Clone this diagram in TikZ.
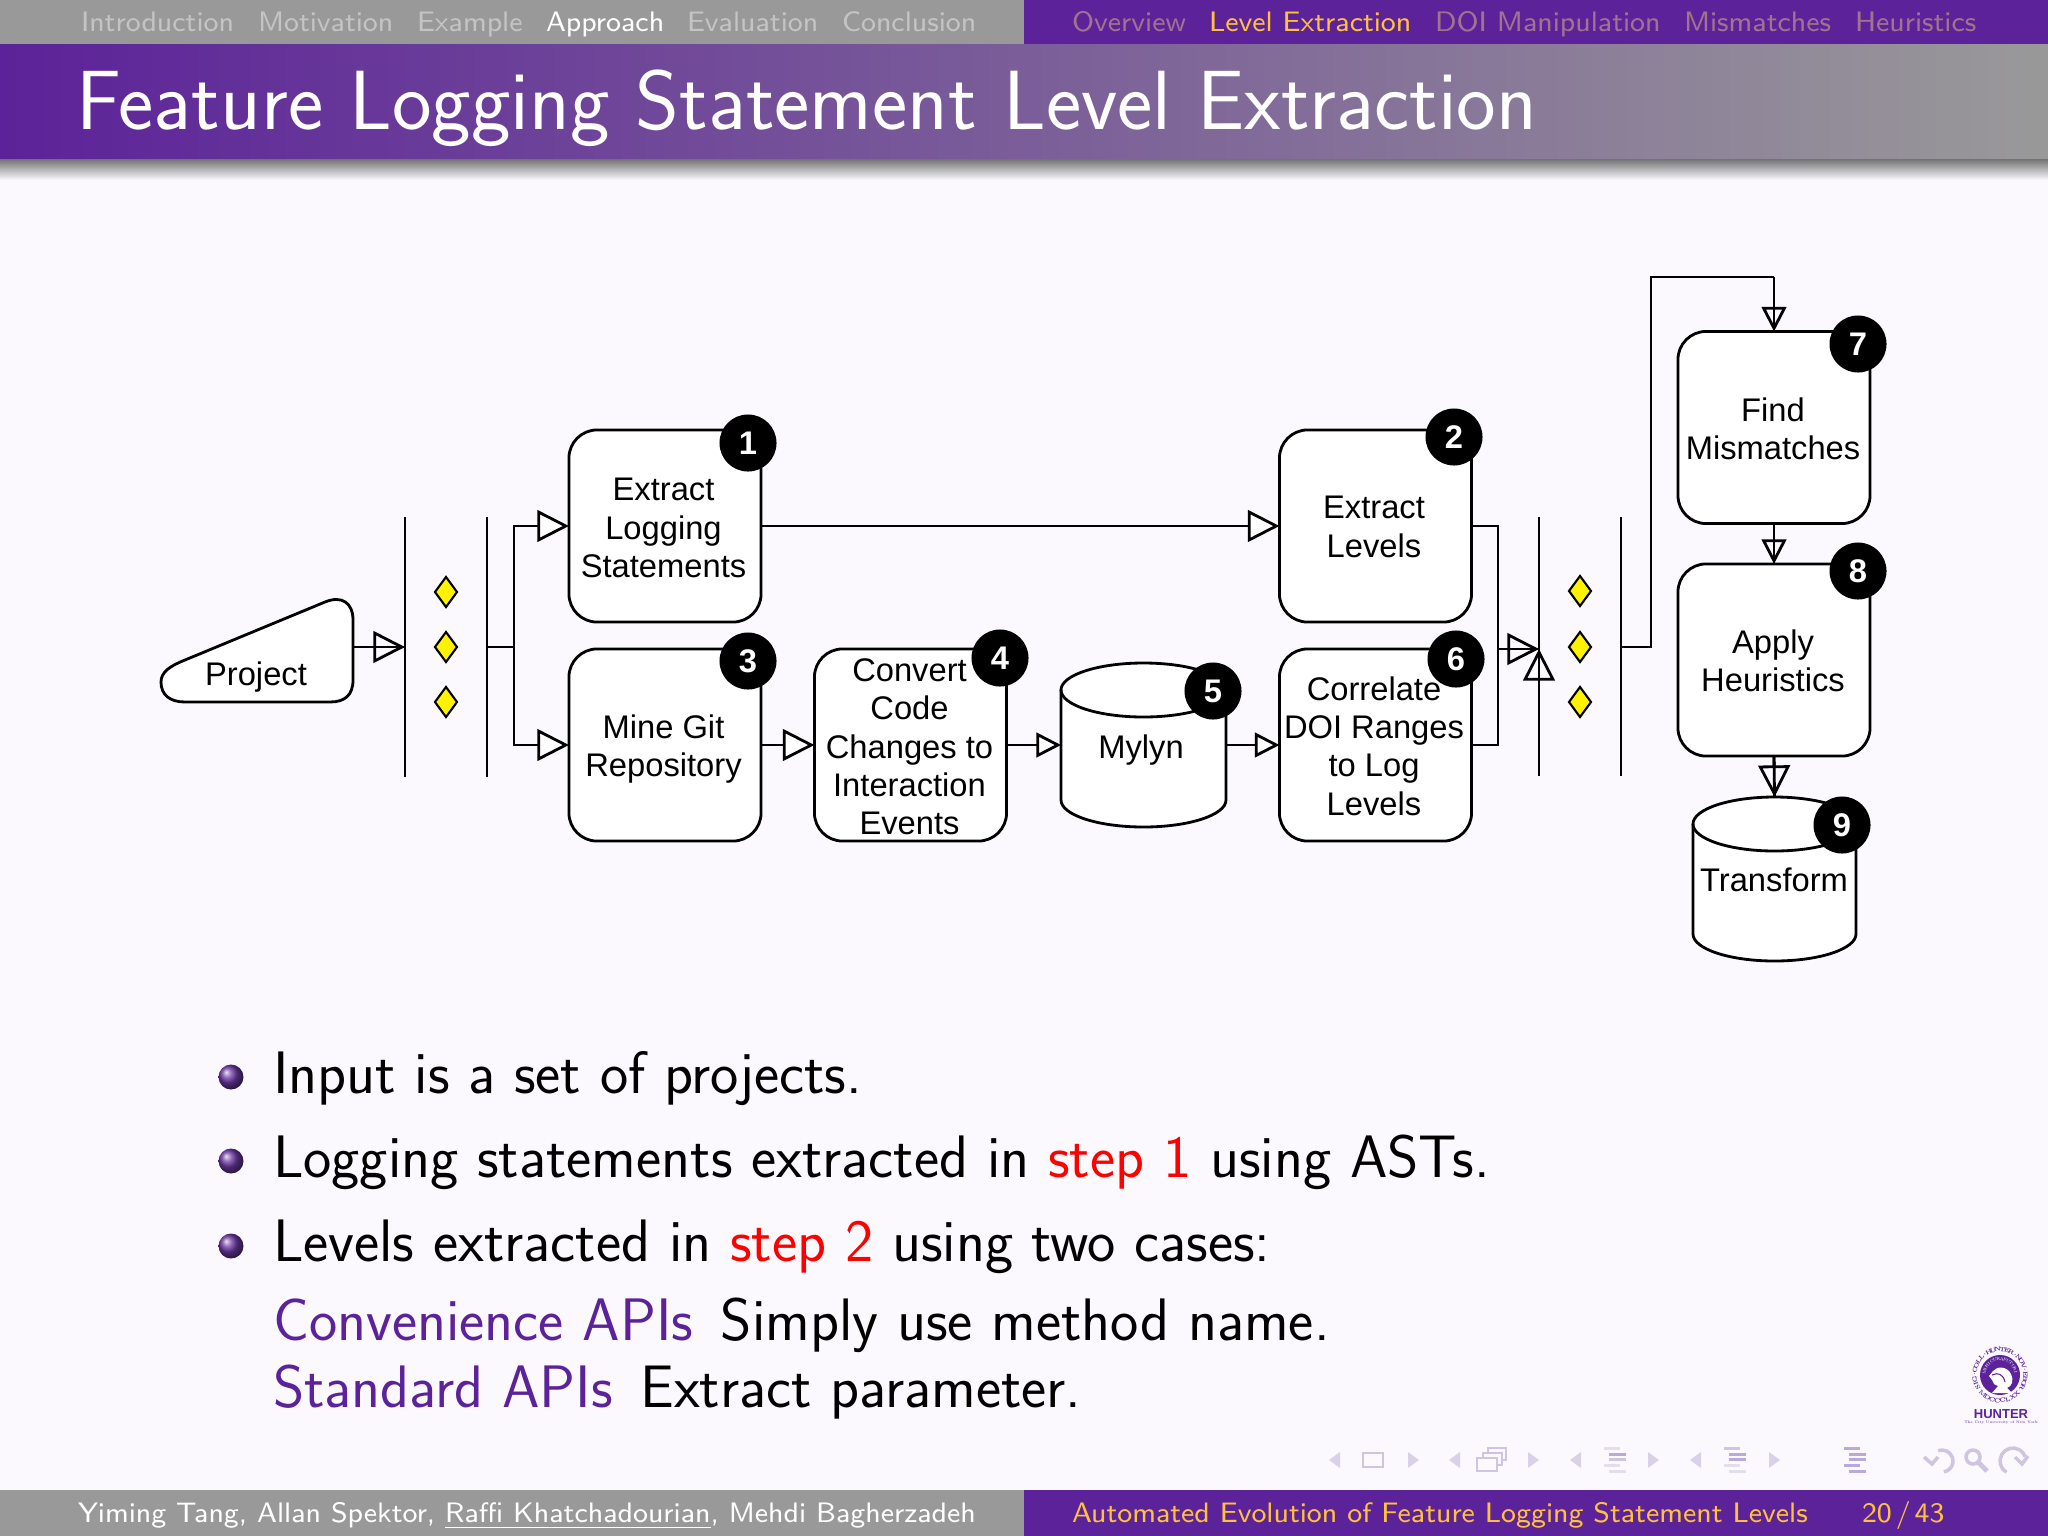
\documentclass[tikz,border=0pt]{standalone}
\usepackage{fontspec}
\usetikzlibrary{arrows.meta,shapes.geometric,positioning,calc}
\newfontfamily\boxfont{Liberation Sans}
\definecolor{hpurple}{HTML}{5C2299}
\definecolor{hgray}{HTML}{999999}
\definecolor{pagebg}{HTML}{FBF9FD}
\definecolor{navdim}{HTML}{C4C4C4}
\definecolor{navdimr}{HTML}{A0748E}
\definecolor{hgold}{HTML}{FFC040}
\definecolor{iconc}{HTML}{CFC4E2}
\definecolor{icond}{HTML}{BBA9D8}
\definecolor{iconl}{HTML}{E3DDEE}
\tikzset{
  x=0.01cm,y=-0.01cm,
  every node/.style={inner sep=0pt,outer sep=0pt},
  procbox/.style={draw=black,line width=0.8pt,rounded corners=8pt,fill=white,minimum width=1.92cm,minimum height=1.92cm},
  boxtext/.style={align=center,font=\boxfont\fontsize{9.3}{10.9}\selectfont},
  badge/.style={circle,fill=black,minimum size=0.57cm,text=white,font=\boxfont\bfseries\fontsize{9.3}{10.9}\selectfont},
  dot/.style={diamond,draw=black,line width=0.6pt,fill=yellow,minimum width=0.22cm,minimum height=0.30cm},
  bar/.style={draw=black,line width=0.8pt},
  conn/.style={draw=black,line width=0.8pt},
  tip/.style={-{Triangle[fill=white,length=#1,width=#1,line width=0.8pt]}},
  tip/.default=9pt,
  thru/.style={postaction={draw=black,line width=0.8pt,-{Triangle[open,length=#1,width=#1,line width=0.8pt]}}},
  thru/.default=9pt,
  nav/.style={anchor=base west,font=\sffamily\fontsize{8}{8}\selectfont},
  body/.style={anchor=base west,font=\sffamily\fontsize{17.05}{20}\selectfont},
  iconline/.style={draw=iconc,line width=0.8pt,fill=none},
  ball/.style={ball color=hpurple!90!white},
  sealtext/.style={font=\rmfamily\bfseries\fontsize{1.7}{2}\selectfont,text=hpurple},
  sealinner/.style={font=\rmfamily\fontsize{1.2}{2}\selectfont,text=white},
}
\newcommand{\drum}[5]{% name, cx, top, bottom, halfwidth
  \coordinate (#1-n) at (#2,#3);
  \coordinate (#1-s) at (#2,#4);
  \coordinate (#1-w) at ({#2-#5},{(#3+#4)/2});
  \coordinate (#1-e) at ({#2+#5},{(#3+#4)/2});
  \path[draw=black,line width=0.8pt,fill=white]
    ({#2-#5},{#3+27}) arc[start angle=180,end angle=0,x radius=#5,y radius=-27]
    -- ({#2+#5},{#4-27}) arc[start angle=0,end angle=-180,x radius=#5,y radius=-27] -- cycle;
  \draw[black,line width=0.8pt] ({#2-#5},{#3+27}) arc[start angle=180,end angle=360,x radius=#5,y radius=-27];
}
% list icon: left x, colours of rows
\newcommand{\listicon}[6]{%
  \fill[#2] (#1,1446.5) rectangle ({#1+16},1449.5);
  \fill[#3] ({#1+5},1452.5) rectangle ({#1+22},1455.5);
  \fill[#4] ({#1+5},1458) rectangle ({#1+22},1461);
  \fill[#5] (#1,1463.5) rectangle ({#1+16},1466.5);
  \fill[#6] ({#1+5},1469.5) rectangle ({#1+22},1472.5);
}
\newcommand{\ltri}[1]{\fill[iconl!50!iconc] ({#1+11},1452) -- ({#1+11},1468) -- (#1,1460) -- cycle;}
\newcommand{\rtri}[1]{\fill[iconl!50!iconc] (#1,1452) -- (#1,1468) -- ({#1+11},1460) -- cycle;}
\begin{document}
\begin{tikzpicture}
\useasboundingbox (0,0) rectangle (2048,1536);
% page
\fill[pagebg] (0,0) rectangle (2048,1536);
% header
\fill[hgray] (0,0) rectangle (1024,44);
\fill[hpurple] (1024,0) rectangle (2048,44);
\shade[left color=hpurple,right color=hgray,shading angle=90] (0,44) rectangle (2048,159);
\shade[top color=black!55,bottom color=pagebg] (0,159) rectangle (2048,180);
% footer
\fill[hgray] (0,1490) rectangle (1024,1536);
\fill[hpurple] (1024,1490) rectangle (2048,1536);
% nav
\node[nav,text=navdim] (n1) at (81,31) {Introduction};
\node[nav,text=navdim] (n2) at (258,31) {Motivation};
\node[nav,text=navdim] (n3) at (417,31) {Example};
\node[nav,text=white] (n4) at (546,31) {Approach};
\node[nav,text=navdim] (n5) at (687,31) {Evaluation};
\node[nav,text=navdim] (n6) at (842,31) {Conclusion};
\node[nav,text=navdimr] (m1) at (1072,31) {Overview};
\node[nav,text=hgold] (m2) at (1209,31) {Level Extraction};
\node[nav,text=navdimr] (m3) at (1435,31) {DOI Manipulation};
\node[nav,text=navdimr] (m4) at (1684,31) {Mismatches};
\node[nav,text=navdimr] (m5) at (1855,31) {Heuristics};
% title
\node[anchor=base west,text=white,font=\sffamily\fontsize{23.9}{25}\selectfont] (title) at (76,129) {Feature Logging Statement Level Extraction};
% footer text
\node[nav,text=white] (f1) at (78,1522) {Yiming Tang, Allan Spektor, \underline{Raffi Khatchadourian}, Mehdi Bagherzadeh};
\node[nav,text=hgold] (f2) at (1072,1522) {Automated Evolution of Feature Logging Statement Levels};
\node[nav,text=hgold] (f3) at (1862,1522) {20\hspace{0.14em}/\hspace{0.14em}43};
% diagram
\draw[draw=black,line width=0.8pt,fill=white]
  (185,660) -- (325,602) .. controls (342,595) and (353,603) .. (353,620)
  -- (353,680) .. controls (353,695) and (345,702) .. (330,702)
  -- (185,702) .. controls (170,702) and (161,695) .. (161,682)
  .. controls (161,672) and (170,666) .. (185,660) -- cycle;
\coordinate (proj-e) at (353,647);
\node[boxtext] (proj) at (256,677) {Project};
\coordinate (b1t) at (405,517); \coordinate (b1b) at (405,777);
\coordinate (b2t) at (487,517); \coordinate (b2b) at (487,777);
\coordinate (b3t) at (1539,517); \coordinate (b3b) at (1539,776);
\coordinate (b4t) at (1621,517); \coordinate (b4b) at (1621,776);
\draw[bar] (b1t) -- (b1b); \draw[bar] (b2t) -- (b2b);
\draw[bar] (b3t) -- (b3b); \draw[bar] (b4t) -- (b4b);
\node[dot] (d1) at (446,592) {}; \node[dot] (d2) at (446,647) {}; \node[dot] (d3) at (446,702) {};
\node[dot] (d4) at (1580,591) {}; \node[dot] (d5) at (1580,647) {}; \node[dot] (d6) at (1580,702) {};
\node[procbox] (s1) at (665,526) {};
\node[procbox] (s2) at (1375.5,526) {};
\node[procbox] (s3) at (665,745) {};
\node[procbox] (s4) at (910.5,745) {};
\node[procbox] (s6) at (1375.5,745) {};
\node[procbox] (s7) at (1774,427.5) {};
\node[procbox] (s8) at (1774,660) {};
\node[boxtext] (s1t) at (663.5,528) {Extract\\Logging\\Statements};
\node[boxtext] (s2t) at (1374,527) {Extract\\Levels};
\node[boxtext] (s3t) at (663.5,749) {Mine Git\\Repository};
\node[boxtext] (s4t) at (909.5,747) {Convert\\Code\\Changes to\\Interaction\\Events};
\node[boxtext] (s6t) at (1374,746) {Correlate\\DOI Ranges\\to Log\\Levels};
\node[boxtext] (s7t) at (1773,429) {Find\\Mismatches};
\node[boxtext] (s8t) at (1773,661) {Apply\\Heuristics};
\drum{s5}{1143.5}{663}{827}{82.5}
\node[boxtext] (s5t) at (1141,750) {Mylyn};
\drum{s9}{1774.5}{797}{961}{81.5}
\node[boxtext] (s9t) at (1774,880) {Transform};
\node[badge] (c1) at (748,443) {1};
\node[badge] (c2) at (1454,437) {2};
\node[badge] (c3) at (748,661) {3};
\node[badge] (c4) at (1000,658) {4};
\node[badge] (c5) at (1213,691) {5};
\node[badge] (c6) at (1456,659) {6};
\node[badge] (c7) at (1858,344) {7};
\node[badge] (c8) at (1858,571) {8};
\node[badge] (c9) at (1842,825) {9};
% connectors
\coordinate (p1) at (405,647);
\coordinate (p2) at (487,647);
\coordinate (fork) at (514,647);
\coordinate (m3i) at (1539,649);
\coordinate (join) at (1498,649);
\coordinate (p4) at (1621,647);
\coordinate (up1) at (1651,647);
\coordinate (up2) at (1651,277);
\coordinate (up3) at (1774,277);
\path[conn,thru] (proj-e) -- (p1);
\draw[conn] (p2) -- (fork);
\draw[conn,tip] (fork) |- (s1.west);
\draw[conn,tip] (fork) |- (s3.west);
\draw[conn,tip] (s1.east) -- (s2.west);
\draw[conn,tip] (s3.east) -- (s4.west);
\draw[conn,tip=7pt] (s4.east) -- (s5-w |- s4.east);
\draw[conn,tip=7pt] (s5-e |- s6.west) -- (s6.west);
\draw[conn] (s2.east) -| (join);
\draw[conn] (s6.east) -| (join);
\path[conn,thru] (join) -- (m3i);
\path[conn,thru] (b3b) -- (m3i);
\draw[conn] (p4) -- (up1) -- (up2) -- (up3);
\path[conn,thru=7pt] (up3) -- (s7.north);
\path[conn,thru=7pt] (s7.south) -- (s8.north);
\path[conn,thru] (s8.south) -- (s9-n);
% bullets
\foreach \yy in {1077,1161,1246}{
  \shade[ball] (231,\yy) circle[radius=12.5];
}
\node[body] (t1) at (273,1093) {Input is a set of projects.};
\node[body] (t2) at (273,1177) {Logging statements extracted in \textcolor{red}{step 1} using ASTs.};
\node[body] (t3) at (273,1261) {Levels extracted in \textcolor{red}{step 2} using two cases:};
\node[body] (t4) at (273,1340) {\textcolor{hpurple}{Convenience APIs}\hspace{0.46em}Simply use method name.};
\node[body] (t5) at (273,1407) {\textcolor{hpurple}{Standard APIs}\hspace{0.46em}Extract parameter.};
% logo
\fill[hpurple] (2000,1375) circle[radius=20];
\foreach \ch [count=\i] in {S,I,G,.,C,O,L,L,.,H,U,N,T,E,R,.,N,O,V,.,E,B,O,R}{
  \pgfmathsetmacro{\a}{150+(\i-1)*10.43}
  \pgfmathsetmacro{\r}{-\a-90}
  \node[sealtext,rotate=\r] (sa\i) at ({2000+25.5*cos(\a)},{1375+25.5*sin(\a)}) {\ch};
}
\foreach \ch [count=\i] in {M,D,C,C,C,L,X,X}{
  \pgfmathsetmacro{\a}{132-(\i-1)*12}
  \pgfmathsetmacro{\r}{-\a+90}
  \node[sealtext,rotate=\r] (sb\i) at ({2000+25.5*cos(\a)},{1375+25.5*sin(\a)}) {\ch};
}
\foreach \ch [count=\i] in {M,I,H,I,C,U,R,A,F,U,T,U,R,I}{
  \pgfmathsetmacro{\a}{190+(\i-1)*12.3}
  \pgfmathsetmacro{\r}{-\a-90}
  \node[sealinner,rotate=\r] (sc\i) at ({2000+16*cos(\a)},{1375+16*sin(\a)}) {\ch};
}
\fill[white] (1989,1376) -- (1993,1371) .. controls (1997,1366) and (2007,1366) .. (2011,1374)
  .. controls (2014,1381) and (2012,1386) .. (2007,1388) -- (2012,1393) -- (1992,1393) -- (1998,1386)
  -- (1994,1384) -- (1992,1380) -- cycle;
\draw[hpurple,line width=0.3pt] (1992,1375) .. controls (1998,1372) and (2003,1374) .. (2005,1382);
\node[font=\boxfont\bfseries\fontsize{3.7}{4}\selectfont,text=hpurple] (lg) at (2001,1414) {HUNTER};
\node[font=\rmfamily\fontsize{1.05}{2}\selectfont,text=hpurple] (lg2) at (2001,1423) {The City University of New York};
% navigation symbols
\ltri{1329}
\draw[iconline] (1363,1453) rectangle (1383,1467);
\rtri{1408}
\ltri{1449}
\draw[iconline,fill=pagebg] (1488,1448) rectangle (1506,1460);
\draw[iconline,fill=pagebg] (1483,1453) rectangle (1502,1465);
\draw[iconline,fill=pagebg] (1477,1458) rectangle (1497,1471);
\rtri{1528}
\ltri{1570}
\listicon{1604}{iconl}{icond}{iconc}{iconl}{iconl}
\rtri{1648}
\ltri{1690}
\listicon{1724}{iconc}{icond}{icond}{iconl}{iconl}
\rtri{1769}
\listicon{1844}{icond}{icond}{icond}{icond}{icond}
% back, search, forward
\draw[iconline,line width=1pt] (1938.2,1450.7) arc[start angle=-110,end angle=80,radius=11];
\draw[iconline,line width=1pt] (1924,1457) -- (1932,1464) -- (1938,1457);
\draw[iconline,line width=1pt] (1973,1457) circle[radius=7];
\draw[iconline,line width=1.4pt] (1978,1462) -- (1987,1471);
\draw[iconline,line width=1pt] (2006.5,1472.3) arc[start angle=120,end angle=340,radius=13];
\draw[iconline,line width=1pt] (2015,1457) -- (2022,1464) -- (2028,1456);
\end{tikzpicture}
\end{document}
